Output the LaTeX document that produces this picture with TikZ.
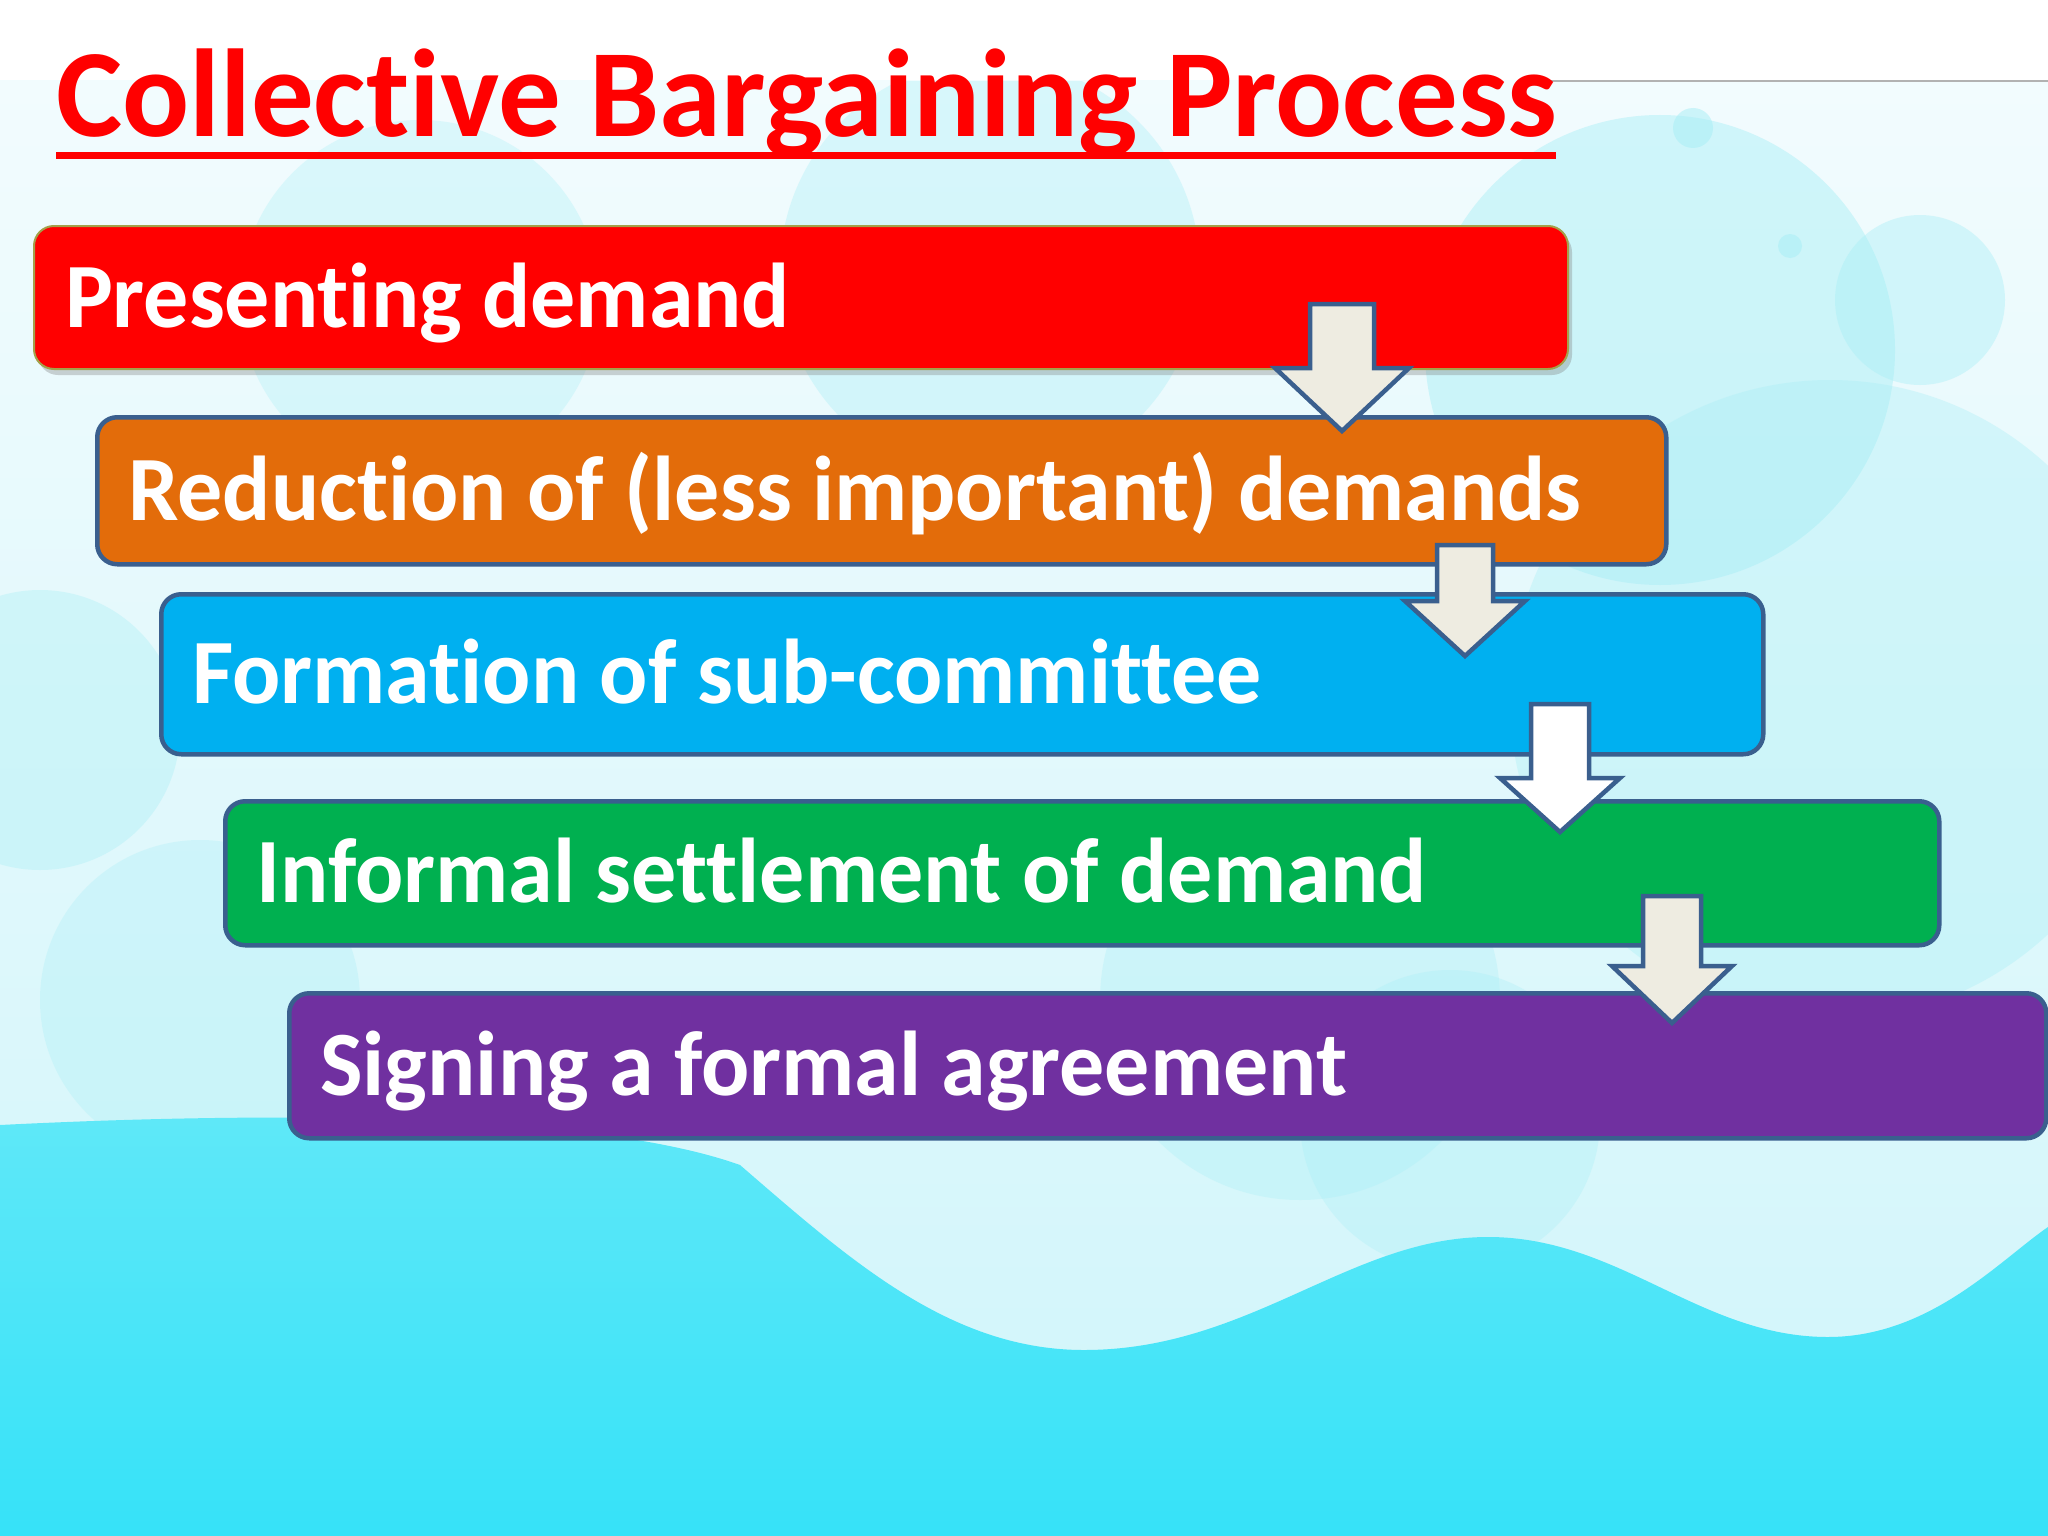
\documentclass[tikz,border=0pt]{standalone}
\usepackage{fontspec}
\setmainfont{Carlito}[Ligatures=NoCommon]
\newfontfamily\boxfont{Carlito}[Ligatures=NoCommon, FakeStretch=0.978]
\usetikzlibrary{shadows}
\definecolor{bRed}{HTML}{FF0000}
\definecolor{bOrange}{HTML}{E36C0A}
\definecolor{bBlue}{HTML}{00B0F0}
\definecolor{bGreen}{HTML}{00B050}
\definecolor{bPurple}{HTML}{7030A0}
\definecolor{edgeblue}{HTML}{3A5F8E}
\definecolor{arrowfill}{HTML}{EEECE1}
\definecolor{rededge}{HTML}{A4A04A}
\definecolor{bgtop}{HTML}{F4FCFE}
\definecolor{bgmid}{HTML}{CFF5FA}
\definecolor{bubble}{HTML}{A6EEF6}
\definecolor{wavetop}{HTML}{5FE8F8}
\definecolor{wavebot}{HTML}{36E2F8}
\newcommand{\natsp}{\spaceskip=0pt \xspaceskip=0pt\relax}
\newcommand{\blkarrow}[7]{%
  \draw[blockarrow, fill=#7]
    (#1-#2,#4) -- (#1+#2,#4) -- (#1+#2,#5) -- (#1+#3,#5) -- (#1,#6)
    -- (#1-#3,#5) -- (#1-#2,#5) -- cycle;}
\begin{document}
\begin{tikzpicture}[x=1pt,y=-1pt,
  stepbox/.style={rounded corners=20pt, draw=edgeblue, line width=4.5pt,
    anchor=north west, inner xsep=31pt, inner ysep=0pt, align=left,
    text=white, text height=59pt, text depth=0pt,
    font=\boxfont\bfseries\fontsize{92}{100}\selectfont},
  blockarrow/.style={draw=edgeblue, line width=4.5pt, line join=miter}]
\useasboundingbox (0,0) rectangle (2048,1536);
% background
\shade[top color=bgtop, bottom color=bgmid] (0,0) rectangle (2048,1536);
\fill[white] (0,0) rectangle (2048,80);
\draw[gray!60, line width=2pt] (1550,81) -- (2048,81);
\begin{scope}
\clip (0,82) rectangle (2048,1536);
\fill[bubble, opacity=0.45] (1660,350) circle (235);
\fill[bubble, opacity=0.40] (1920,300) circle (85);
\fill[bubble, opacity=0.35] (1830,700) circle (320);
\fill[bubble, opacity=0.35] (990,270) circle (210);
\fill[bubble, opacity=0.35] (40,730) circle (140);
\fill[bubble, opacity=0.30] (420,300) circle (180);
\fill[bubble, opacity=0.30] (1300,1000) circle (200);
\fill[bubble, opacity=0.30] (200,1000) circle (160);
\fill[bubble, opacity=0.30] (1450,1120) circle (150);
\fill[bubble, opacity=0.5] (1693,128) circle (20);
\fill[bubble, opacity=0.5] (1790,246) circle (12);
\end{scope}
\shade[top color=wavetop, bottom color=wavebot]
  (0,1125) .. controls (300,1110) and (600,1115) .. (740,1165)
  .. controls (850,1260) and (950,1350) .. (1084,1350)
  .. controls (1250,1350) and (1350,1237) .. (1488,1237)
  .. controls (1620,1237) and (1700,1337) .. (1828,1337)
  .. controls (1930,1337) and (2000,1260) .. (2048,1227)
  -- (2048,1536) -- (0,1536) -- cycle;
% title
\node[anchor=base west, inner sep=0pt, text=bRed,
  font=\bfseries\fontsize{125}{130}\selectfont] (title) at (56,137) {Collective Bargaining Process};
\draw[bRed, line width=7pt] (56,156) -- (1556,156);
% boxes
\node[stepbox, fill=bRed, draw=rededge, line width=2pt,
  drop shadow={shadow xshift=4pt, shadow yshift=-6pt, opacity=0.35},
  minimum height=143pt, text width=1472pt] (s1) at (33,225) {\natsp Presenting demand};
\node[stepbox, fill=bOrange, minimum height=147pt, text width=1507pt] (s2) at (95,415) {\natsp Reduction of (less important) demands};
\node[stepbox, fill=bBlue, minimum height=160pt, text width=1540pt] (s3) at (159,592) {\natsp Formation of sub-committee};
\node[stepbox, fill=bGreen, minimum height=144pt, text width=1652pt] (s4) at (223,799) {\natsp Informal settlement of demand};
\node[stepbox, fill=bPurple, minimum height=145pt, text width=1695pt] (s5) at (287,991) {\natsp Signing a formal agreement};
% block arrows
\blkarrow{1342}{32}{67}{304}{368}{431}{arrowfill}
\blkarrow{1465}{28}{60}{545}{601}{656}{arrowfill}
\blkarrow{1560}{29}{60}{704}{778}{832}{white}
\blkarrow{1672}{29}{60}{896}{966}{1023}{arrowfill}
\end{tikzpicture}
\end{document}
